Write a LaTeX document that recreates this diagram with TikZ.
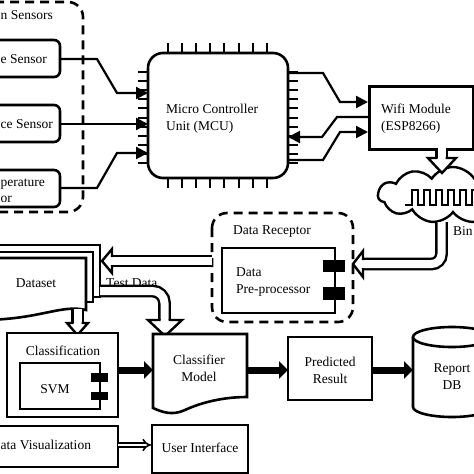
\documentclass[tikz,border=0pt]{standalone}
\usepackage{fontspec}
\setmainfont{Liberation Serif}
\usetikzlibrary{arrows.meta,shapes.symbols}
\begin{document}
\begin{tikzpicture}[x=1pt,y=-1pt,
  box/.style={draw,line width=2.6pt,fill=white},
  conn/.style={line width=2.2pt},
  dashbox/.style={line width=2.6pt,dash pattern=on 9pt off 6pt,rounded corners=15pt},
  lbl/.style={font=\fontsize{13.5}{17}\selectfont,align=left,inner sep=0pt},
  lblc/.style={font=\fontsize{13.5}{17}\selectfont,align=center,inner sep=0pt},
  thinarrow/.style={conn,-{Triangle[length=12pt,width=12pt]}},
  fatarrow/.style={line width=7pt,-{Triangle[length=9pt,width=17pt]}},
  tube/.style={line width=2.4pt,double=white,double distance=8pt},
  head/.style={line width=2.4pt,fill=white,line join=miter},
  pin/.style={line width=2pt},
  tab/.style={fill=black}
]
\useasboundingbox (0,0) rectangle (474,474);
\fill[white] (0,0) rectangle (474,474);

% ---------- sensors group ----------
\draw[dashbox] (-20,2) -- (83,2) -- (83,212) -- (-20,212);
\node[lbl,anchor=west] (grp) at (0.5,15) {n Sensors};
\draw[box,rounded corners=6pt] (-20,40) rectangle (60,77);
\node[lbl,anchor=west] (s1) at (0.5,59) {e Sensor};
\draw[box,rounded corners=6pt] (-20,105) rectangle (60,142);
\node[lbl,anchor=west] (s2) at (0.5,124) {ce Sensor};
\draw[box,rounded corners=6pt] (-20,170) rectangle (60,207);
\node[lbl,anchor=west] (s3a) at (0.5,184) {perature};
\node[lbl,anchor=west] (s3b) at (0.5,199) {or};
\coordinate (s1o) at (60,59);
\coordinate (s2o) at (60,124);
\coordinate (s3o) at (60,188);

% ---------- MCU ----------
\foreach \i in {0,...,7} {
  \draw[pin] (168+\i*14.1,43) -- (168+\i*14.1,53);
  \draw[pin] (168+\i*14.1,178) -- (168+\i*14.1,188);
}
\foreach \i in {0,...,10} {
  \draw[pin] (138,72+\i*9.1) -- (148,72+\i*9.1);
  \draw[pin] (288,72+\i*9.1) -- (298,72+\i*9.1);
}
\draw[box,rounded corners=15pt] (148,53) rectangle (288,178);
\node[lbl,anchor=west] (mcu) at (166,119) {Micro Controller\\Unit (MCU)};
\coordinate (mcuL1) at (148,93);
\coordinate (mcuL2) at (148,124);
\coordinate (mcuL3) at (148,153);

\draw[thinarrow] (s1o) -- (97,59) -- (117,93) -- (mcuL1);
\draw[thinarrow] (s2o) -- (mcuL2);
\draw[thinarrow] (s3o) -- (97,188) -- (117,153) -- (mcuL3);

% ---------- Wifi ----------
\node[box,minimum width=104pt,minimum height=63pt,inner sep=0pt,anchor=north west] (wifi) at (368,85) {};
\node[lbl,anchor=west] (wifit) at (381,119) {Wifi Module\\(ESP8266)};
\coordinate (mcuR1) at (288,73);
\coordinate (mcuR2) at (288,137);
\coordinate (mcuR3) at (288,160);
\coordinate (wL1) at (368,102);
\coordinate (wL2) at (368,117);
\coordinate (wL3) at (368,132);
\draw[thinarrow] (mcuR1) -- (323,73) -- (340,102) -- (wL1);
\draw[thinarrow] (wL2) -- (337,117) -- (322,137) -- (mcuR2);
\draw[thinarrow] (mcuR3) -- (323,160) -- (340,132) -- (wL3);

% ---------- cloud ----------
\node[cloud,cloud puffs=11,cloud puff arc=115,aspect=2.6,draw,line width=2.4pt,fill=white,
      minimum width=150pt,minimum height=56pt,inner sep=0pt] (cloud) at (453,195) {};
\draw[line width=2pt] (405,205) -- (412,205)
  \foreach \k in {0,...,5} { -- ++(0,-15) -- ++(6,0) -- ++(0,15) -- ++(6,0) };
% wifi -> cloud hollow arrow
\draw[tube] (441.5,148) -- (441.5,159);
\draw[head] (437.5,158) -- (428,158) -- (442,173) -- (456,158) -- (445.5,158);
\node[lbl,anchor=west] (bin) at (453,231) {Bin};

% ---------- Data receptor ----------
\draw[dashbox] (212,213) rectangle (353,322);
\node[lbl,anchor=west] (rec) at (233,232) {Data Receptor};
\draw[line width=2.4pt] (222,248) rectangle (335,313);
\fill[tab] (323,260) rectangle (345,272);
\fill[tab] (323,287) rectangle (345,300);
\node[lbl,anchor=west] (pre) at (236,282) {Data\\Pre-processor};
% cloud -> receptor
\draw[tube,rounded corners=10pt] (441.5,222) -- (441.5,264) -- (362,264);
\draw[head] (363,260) -- (363,251) -- (353,264) -- (363,277) -- (363,268);
\coordinate (recL) at (212,261);

% ---------- Dataset ----------
\draw[box] (-20,245) rectangle (100,297);
\draw[box] (-20,252) rectangle (93,302);
\draw[box] (-20,258) -- (86,258) -- (86,310) .. controls (60,304) and (40,320) .. (-20,320) -- cycle;
\node[lblc] (ds) at (36,283) {Dataset};
% receptor -> dataset
\draw[tube] (recL) -- (111,261);
\draw[head] (112,257) -- (112,249) -- (102,261) -- (112,273) -- (112,265);
% test data
\draw[tube,rounded corners=12pt] (100,291) -- (164.5,291) -- (164.5,321);
\draw[head] (160.5,320) -- (148,320) -- (165,336) -- (182,320) -- (168.5,320);
\node[lbl,anchor=west] (td) at (106,283) {Test Data};
% dataset -> classification
\draw[tube] (77.5,309) -- (77.5,324);
\draw[head] (73.5,323) -- (67,323) -- (77.5,335) -- (88,323) -- (81.5,323);

% ---------- Classification ----------
\draw[box] (7,333) rectangle (118,417);
\node[lblc] (cl) at (63,351) {Classification};
\draw[line width=2.4pt] (20,363) rectangle (100,409);
\fill[tab] (91,373) rectangle (108,382);
\fill[tab] (91,392) rectangle (108,400);
\node[lblc] (svm) at (55,389) {SVM};

% ---------- Classifier model ----------
\draw[box] (153,334) -- (247,334) -- (247,397)
  .. controls (222,397) and (200,403) .. (185,410)
  .. controls (172,416) and (162,412) .. (153,408) -- cycle;
\node[lblc] (cm) at (199,368) {Classifier\\Model};
\draw[fatarrow] (118,370) -- (153,370);

% ---------- Predicted ----------
\draw[box] (288,337) rectangle (372,400);
\node[lblc] (pr) at (330,370) {Predicted\\Result};
\draw[fatarrow] (247,370) -- (288,370);

% ---------- Report DB ----------
\draw[box] (413,337) -- (413,407) arc[start angle=180,end angle=360,x radius=39pt,y radius=10pt] -- (491,337);
\draw[box] (452,337) ellipse[x radius=39pt,y radius=10pt];
\node[lblc] (db) at (452,377) {Report\\DB};
\draw[fatarrow] (372,370) -- (413,370);

% ---------- Visualization / UI ----------
\draw[box] (-20,426) rectangle (118,467);
\node[lbl,anchor=west] (vis) at (0.5,445) {ata Visualization};
\draw[box] (152,425) rectangle (248,473);
\node[lblc] (ui) at (200,448) {User Interface};
\draw[line width=1.6pt,double=white,double distance=2.5pt,-{Implies[length=7pt,width=14pt]}] (118,445) -- (151,445);
\end{tikzpicture}
\end{document}
